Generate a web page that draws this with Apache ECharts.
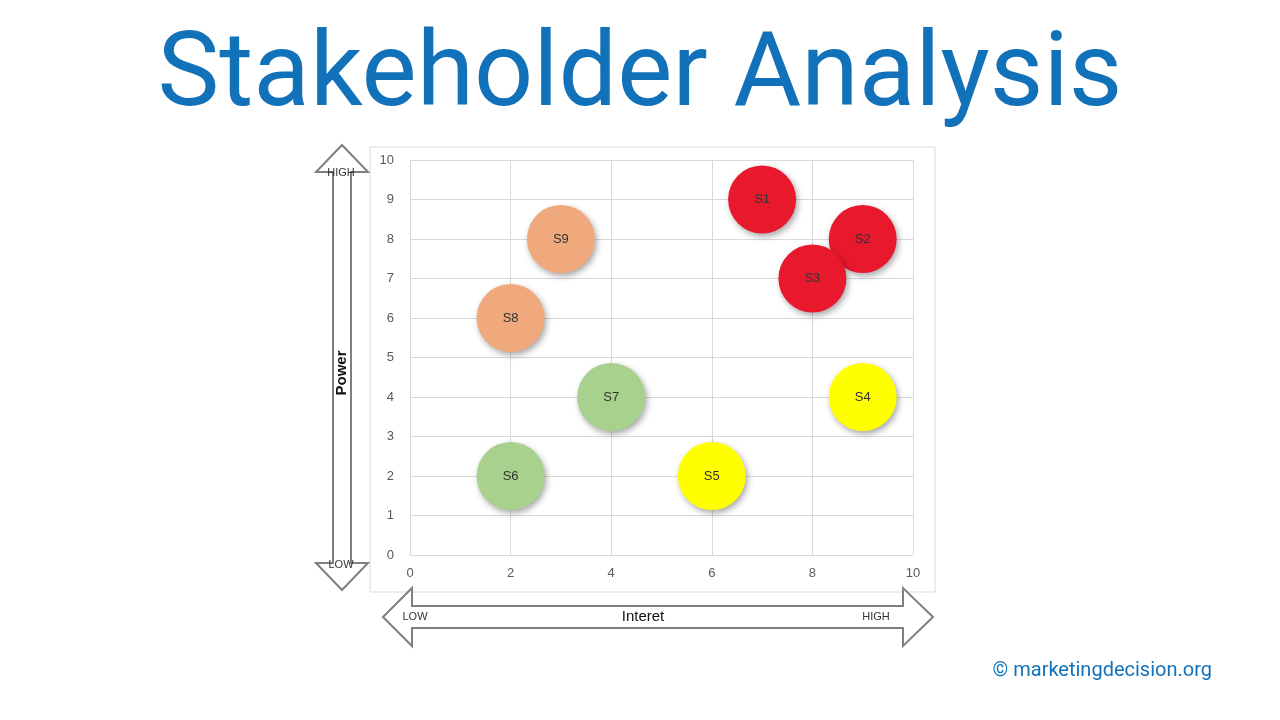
<!DOCTYPE html>
<html><head><meta charset="utf-8">
<script src="https://cdn.jsdelivr.net/npm/echarts@6/dist/echarts.min.js"></script>
<style>html,body{margin:0;background:#fff}#c{width:1280px;height:720px}</style>
</head><body><div id="c"></div>
<script>
const names = ['S1','S2','S3','S4','S5','S6','S7','S8','S9'];
const interest = [7, 9, 8, 9, 6, 2, 4, 2, 3];
const power = [9, 8, 7, 4, 2, 2, 4, 6, 8];
const colors = ['#e8192c','#e8192c','#e8192c','#ffff00','#ffff00','#a9d18e','#a9d18e','#f0a97c','#f0a97c'];

const chart = echarts.init(document.getElementById('c'));
const arrowCol = '#7f7f7f';
// vertical and horizontal double arrows
const vArrow = [[342,145],[316,172],[333,172],[333,563],[316,563],[342,590],[368,563],[351,563],[351,172],[368,172]];
const hArrow = [[383,617],[412,588],[412,606],[903,606],[903,588],[933,617],[903,646],[903,628],[412,628],[412,646]];
chart.setOption({
  backgroundColor: '#fff',
  title: { text: 'Stakeholder Analysis', left: 'center', top: 22,
    textStyle: { color: '#1272b9', fontSize: 104, fontWeight: 'normal', fontFamily: 'Roboto' } },
  graphic: [
    { type: 'rect', shape: { x: 370, y: 147, width: 565, height: 445 }, style: { fill: 'none', stroke: '#d9d9d9', lineWidth: 1 }, z: -1 },
    { type: 'polygon', shape: { points: vArrow }, style: { fill: '#fff', stroke: arrowCol, lineWidth: 2 } },
    { type: 'polygon', shape: { points: hArrow }, style: { fill: '#fff', stroke: arrowCol, lineWidth: 2 } },
    { type: 'text', x: 341, y: 173, style: { text: 'HIGH', fill: '#333', font: '11px Liberation Sans', align: 'center', verticalAlign: 'middle' } },
    { type: 'text', x: 341, y: 565, style: { text: 'LOW', fill: '#333', font: '11px Liberation Sans', align: 'center', verticalAlign: 'middle' } },
    { type: 'text', x: 342, y: 373, rotation: Math.PI / 2, style: { text: 'Power', fill: '#111', font: 'bold 15px Liberation Sans', align: 'center', verticalAlign: 'middle' } },
    { type: 'text', x: 415, y: 617, style: { text: 'LOW', fill: '#333', font: '11px Liberation Sans', align: 'center', verticalAlign: 'middle' } },
    { type: 'text', x: 876, y: 617, style: { text: 'HIGH', fill: '#333', font: '11px Liberation Sans', align: 'center', verticalAlign: 'middle' } },
    { type: 'text', x: 643, y: 617, style: { text: 'Interet', fill: '#111', font: '15px Liberation Sans', align: 'center', verticalAlign: 'middle' } },
    { type: 'text', x: 1212, y: 671, style: { text: '© marketingdecision.org', fill: '#1272b9', font: '20px Roboto', align: 'right', verticalAlign: 'middle' } }
  ],
  grid: { left: 410, right: 367, top: 160, bottom: 165 },
  xAxis: { type: 'value', min: 0, max: 10, interval: 2,
    axisLine: { show: false }, axisTick: { show: false },
    axisLabel: { color: '#595959', fontSize: 13, margin: 12 },
    splitLine: { lineStyle: { color: '#d9d9d9' } } },
  yAxis: { type: 'value', min: 0, max: 10, interval: 1,
    axisLine: { show: false }, axisTick: { show: false },
    axisLabel: { color: '#595959', fontSize: 13, margin: 16 },
    splitLine: { lineStyle: { color: '#d9d9d9' } } },
  series: [{
    type: 'scatter', symbolSize: 68,
    data: names.map((n, i) => ({ name: n, value: [interest[i], power[i]],
      itemStyle: { color: colors[i] } })),
    itemStyle: { opacity: 1, shadowBlur: 6, shadowColor: 'rgba(0,0,0,0.35)', shadowOffsetX: 2, shadowOffsetY: 3 },
    label: { show: true, formatter: p => p.name, color: '#333', fontSize: 13 }
  }]
});
</script></body></html>
